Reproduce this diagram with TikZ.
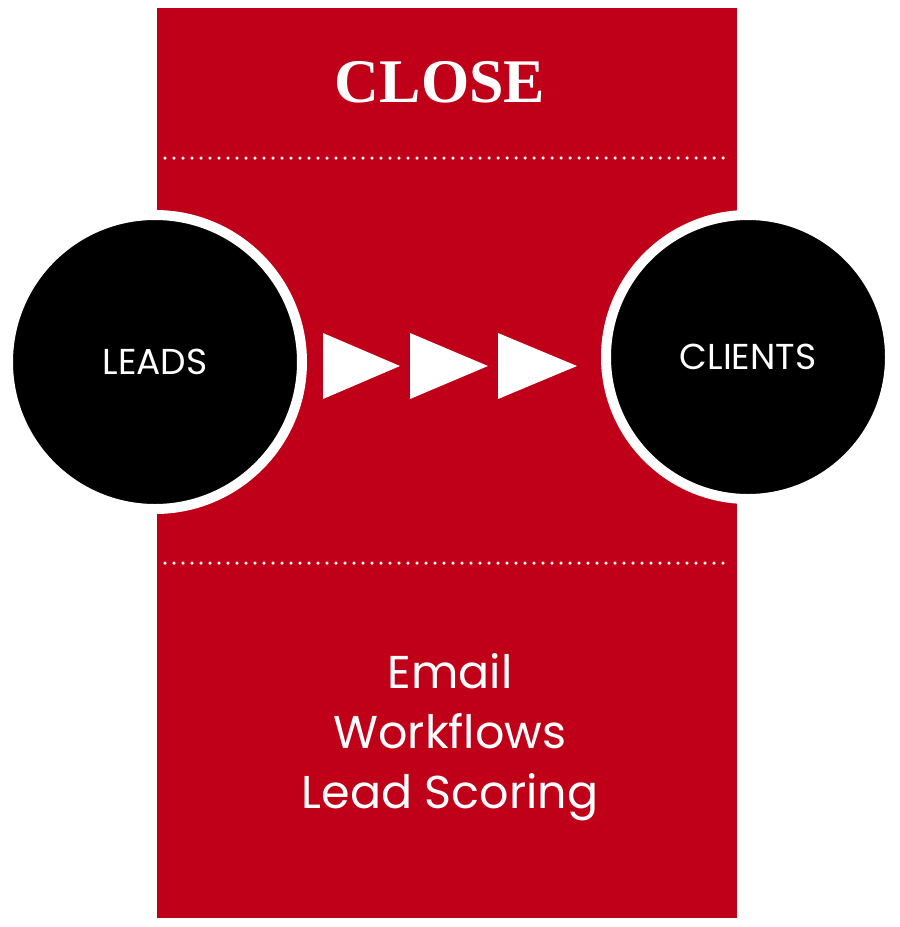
\documentclass[tikz,border=0pt]{standalone}
\usepackage{fontspec}
\setmainfont{Poppins}
\newfontfamily\headfont{Liberation Serif}
\definecolor{cred}{HTML}{C00018}
\begin{document}
\begin{tikzpicture}[x=1pt,y=-1pt,
  dots/.style={white,line width=3.5pt,dash pattern=on 0pt off 9pt,line cap=round},
  ball/.style={circle,fill=black,draw=white,line width=10pt,text=white,font=\fontsize{36}{40}\selectfont},
  tri/.style={fill=white},
  body/.style={text=white,font=\fontsize{46}{60}\selectfont,align=center}]
\useasboundingbox (0,0) rectangle (900,927);
\fill[cred] (157,8) rectangle (737,918);
\node[text=white,font=\headfont\bfseries\fontsize{62}{64}\selectfont] (title) at (440,82) {CLOSE};
\coordinate (d1a) at (165,158); \coordinate (d1b) at (730,158);
\coordinate (d2a) at (165,563); \coordinate (d2b) at (730,563);
\draw[dots] (d1a) -- (d1b);
\draw[dots] (d2a) -- (d2b);
\node[ball,minimum size=294pt] (leads) at (155,362) {LEADS};
\node[ball,minimum size=284pt] (clients) at (748,357) {CLIENTS};
\fill[tri] (323,333) -- (400,366) -- (323,399) -- cycle;
\fill[tri] (410,333) -- (488,366) -- (410,399) -- cycle;
\fill[tri] (498,333) -- (577,366) -- (498,399) -- cycle;
\node[body] (tools) at (450,737) {Email\\Workflows\\Lead Scoring};
\end{tikzpicture}
\end{document}
